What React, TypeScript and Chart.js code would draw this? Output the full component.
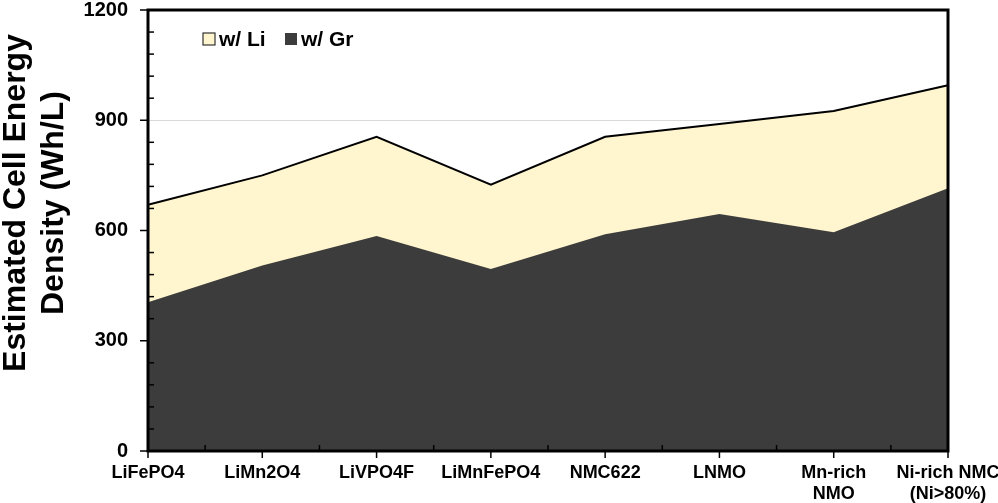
import React, { useEffect, useRef } from "react";
import { Chart, registerables } from "chart.js";

Chart.register(...registerables);

const categories: (string | string[])[] = [
  "LiFePO4",
  "LiMn2O4",
  "LiVPO4F",
  "LiMnFePO4",
  "NMC622",
  "LNMO",
  ["Mn-rich", "NMO"],
  ["Ni-rich NMC", "(Ni>80%)"],
];
const liValues = [670, 750, 855, 725, 855, 890, 925, 995];
const grValues = [405, 505, 585, 495, 590, 645, 595, 715];
const yTicks = [0, 300, 600, 900, 1200];
const yTickLabels = ["0", "300", "600", "900", "1200"];
const seriesNames = ["w/ Li", "w/ Gr"];
const yTitle = ["Estimated Cell Energy", "Density (Wh/L)"];

const LI_COLOR = "#FFF5CE";
const GR_COLOR = "#3C3C3C";
const FONT = "'Liberation Sans', Arial, sans-serif";

const decorPlugin = {
  id: "decor",
  afterDraw(chart: any) {
    const { ctx, chartArea, scales } = chart;
    const { left, right, top, bottom } = chartArea;
    const ys = scales.y;
    const xs = scales.x;
    ctx.save();
    ctx.strokeStyle = "#000";
    ctx.lineWidth = 1.5;
    for (let v = 0; v <= 1200; v += 60) {
      if (v % 300 === 0) continue;
      const y = ys.getPixelForValue(v);
      ctx.beginPath();
      ctx.moveTo(left, y);
      ctx.lineTo(left + 6, y);
      ctx.stroke();
    }
    yTicks.forEach((v) => {
      const y = ys.getPixelForValue(v);
      ctx.beginPath();
      ctx.moveTo(left - 8, y);
      ctx.lineTo(left, y);
      ctx.stroke();
    });
    for (let i = 0; i < categories.length; i++) {
      const x = xs.getPixelForValue(i);
      ctx.beginPath();
      ctx.moveTo(x, bottom);
      ctx.lineTo(x, bottom + 7);
      ctx.stroke();
      if (i < categories.length - 1) {
        const xm = (x + xs.getPixelForValue(i + 1)) / 2;
        ctx.beginPath();
        ctx.moveTo(xm, bottom);
        ctx.lineTo(xm, bottom - 6);
        ctx.stroke();
      }
    }
    ctx.lineWidth = 3;
    ctx.strokeRect(left, top, right - left, bottom - top);

    // legend
    ctx.font = `bold 21px ${FONT}`;
    ctx.textBaseline = "middle";
    ctx.textAlign = "left";
    ctx.lineWidth = 1.2;
    ctx.fillStyle = LI_COLOR;
    ctx.fillRect(203, 33, 12, 12);
    ctx.strokeStyle = "#333";
    ctx.strokeRect(203, 33, 12, 12);
    ctx.fillStyle = "#000";
    ctx.fillText(seriesNames[0], 219, 40);
    ctx.fillStyle = GR_COLOR;
    ctx.fillRect(285, 33, 12, 12);
    ctx.fillStyle = "#000";
    ctx.fillText(seriesNames[1], 301, 40);

    // y title
    ctx.save();
    ctx.translate(0, 203);
    ctx.rotate(-Math.PI / 2);
    ctx.font = `bold 32px ${FONT}`;
    ctx.textAlign = "center";
    ctx.textBaseline = "alphabetic";
    ctx.fillStyle = "#000";
    ctx.fillText(yTitle[0], 0, 25);
    ctx.fillText(yTitle[1], 0, 63);
    ctx.restore();

    ctx.restore();
  },
};

function zeroPad(scale: any) {
  scale.paddingTop = 0;
  scale.paddingBottom = 0;
  scale.paddingLeft = 0;
  scale.paddingRight = 0;
}

export default function App() {
  const ref = useRef<HTMLCanvasElement | null>(null);
  useEffect(() => {
    document.body.style.margin = "0";
    const canvas = ref.current!;
    const chart = new Chart(canvas, {
      type: "line",
      data: {
        labels: categories as any,
        datasets: [
          {
            label: seriesNames[1],
            data: grValues,
            fill: "origin",
            backgroundColor: GR_COLOR,
            borderColor: GR_COLOR,
            borderWidth: 0,
            pointRadius: 0,
            tension: 0,
          },
          {
            label: seriesNames[0],
            data: liValues,
            fill: "origin",
            backgroundColor: LI_COLOR,
            borderColor: "#000",
            borderWidth: 2,
            pointRadius: 0,
            tension: 0,
          },
        ],
      },
      options: {
        animation: false,
        responsive: false,
        devicePixelRatio: 1,
        layout: { padding: { top: 10, right: 50, left: 0, bottom: 0 } },
        plugins: {
          legend: { display: false },
          tooltip: { enabled: false },
          title: { display: false },
        },
        scales: {
          x: {
            type: "category",
            offset: false,
            grid: { display: false, drawTicks: false },
            border: { display: false },
            ticks: {
              autoSkip: false,
              maxRotation: 0,
              minRotation: 0,
              padding: 11,
              color: "#000",
              font: { family: FONT, size: 18, weight: "bold", lineHeight: 1.2 },
            },
            afterFit(scale: any) {
              scale.height = 52;
              zeroPad(scale);
            },
          },
          y: {
            min: 0,
            max: 1200,
            afterBuildTicks(scale: any) {
              scale.ticks = yTicks.map((v) => ({ value: v }));
            },
            grid: { color: "#D9D9D9", lineWidth: 1, drawTicks: false },
            border: { display: false },
            ticks: {
              padding: 20,
              color: "#000",
              font: { family: FONT, size: 20, weight: "bold" },
              callback: (value: any) => {
                const idx = yTicks.indexOf(Number(value));
                return idx >= 0 ? yTickLabels[idx] : "";
              },
            },
            afterFit(scale: any) {
              scale.width = 148;
              zeroPad(scale);
            },
          },
        },
      },
      plugins: [decorPlugin],
    });
    return () => chart.destroy();
  }, []);
  return (
    <div style={{ position: "absolute", left: 0, top: 0, width: 998, height: 503 }}>
      <canvas ref={ref} width={998} height={503} />
    </div>
  );
}
